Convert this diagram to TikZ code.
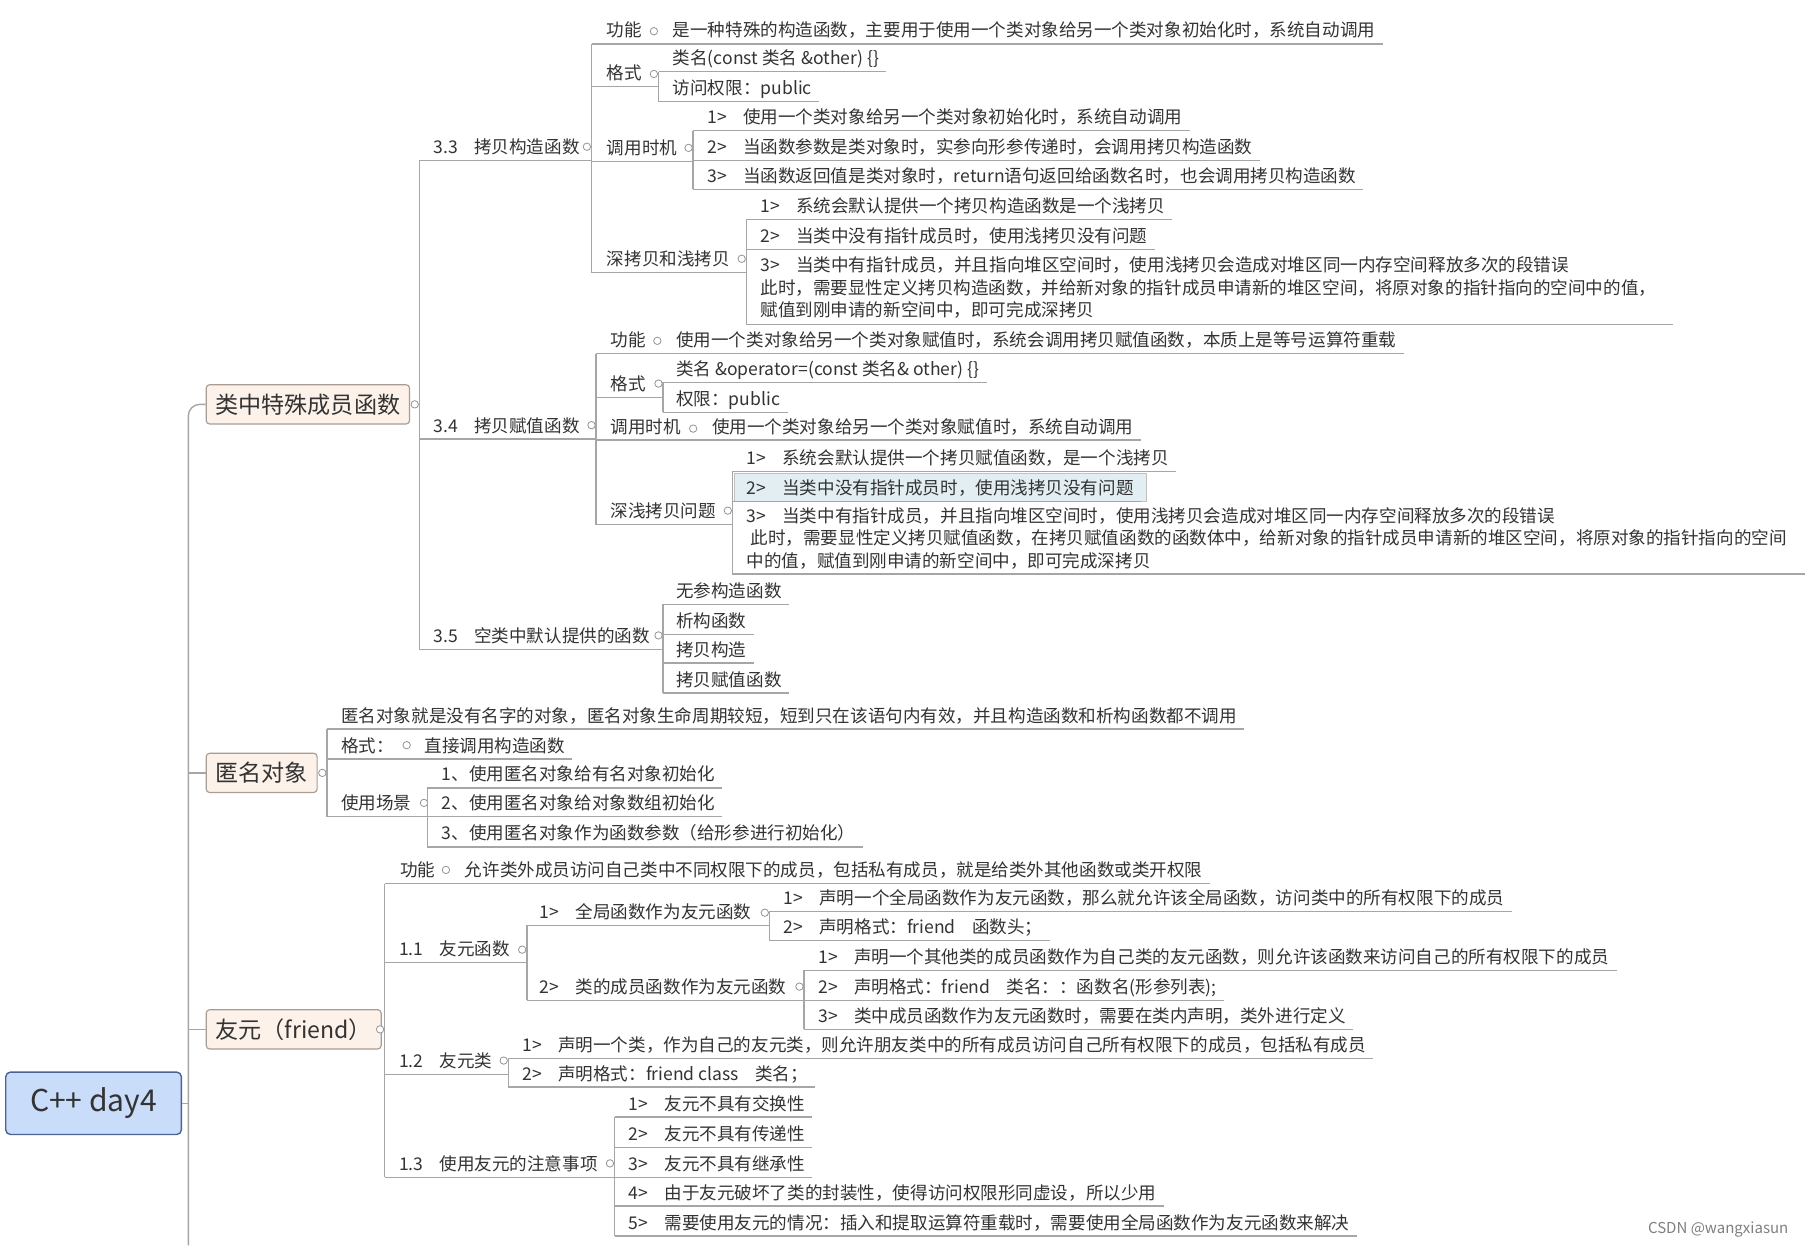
\documentclass[tikz,border=0pt]{standalone}
\usepackage{fontspec}
\setmainfont{Noto Sans CJK SC}
\definecolor{lnc}{HTML}{A6A6A6}
\definecolor{txc}{HTML}{333333}
\definecolor{boxf}{HTML}{FDF2EA}
\definecolor{boxd}{HTML}{A89C94}
\definecolor{rootf}{HTML}{C9DCFA}
\definecolor{rootd}{HTML}{4A6391}
\definecolor{hlf}{HTML}{E3EEF3}
\newcommand\gp{\hspace{7pt}}
\newcommand\T[4]{\node[tx] (#1) at (#2,#3) {#4};}
\newcommand\LL[3]{\draw[ln] (#1,#2) -- (#3.base east |- 0,#2) -- ++(3pt,0);}
\newcommand\HL[3]{\draw[ln] (#1,#3) -- (#2,#3);}
\newcommand\VL[3]{\draw[ln] (#1,#2) -- (#1,#3);}
\newcommand\D[3]{\node[dot] (#1) at (#2,#3) {};}
\begin{document}
\begin{tikzpicture}[x=0.5pt,y=-0.5pt,
  tx/.style={anchor=base west,inner sep=0pt,yshift=3pt,text=txc,font=\fontsize{7.6pt}{9.7pt}\selectfont,align=left},
  ln/.style={draw=lnc,line width=0.6pt},
  dot/.style={circle,draw=lnc!90!black,fill=white,line width=0.35pt,inner sep=0pt,minimum size=3.2pt},
  box/.style={draw=boxd,fill=boxf,rounded corners=1.5pt,line width=0.5pt,anchor=west,minimum height=17pt,inner xsep=4pt,text=txc,font=\fontsize{10pt}{12pt}\selectfont},
  rootbox/.style={draw=rootd,fill=rootf,rounded corners=2pt,line width=0.6pt,minimum width=76pt,minimum height=27pt,text=txc,font=\fontsize{13pt}{15pt}\selectfont}]
\useasboundingbox (0,0) rectangle (1565,1078);
\fill[white] (0,0) rectangle (1565,1078);
% root and trunk
\node[rootbox] (r) at (81,955) {C++ day4};
\draw[ln] (r.east) -- (163,955);
\node[box] (A) at (178,350) {类中特殊成员函数};
\node[box] (B) at (178,669) {匿名对象};
\node[box] (C) at (178,891) {友元（friend）};
\draw[ln,rounded corners=5pt] (A.west) -- (163,350) -- (163,1078);
\draw[ln,rounded corners=5pt] (B.west) -- (163,669);
\draw[ln,rounded corners=5pt] (C.west) -- (163,891);
\D{Ac}{359}{350} \D{Bc}{279}{669} \D{Cc}{329}{891}
% ===== A
\VL{363}{139}{562}
\draw[ln] (Ac) -- (363,350);
% 3.3
\T{a3}{375}{139}{3.3\gp 拷贝构造函数} \HL{363}{512}{139} \D{a3c}{508}{127}
\VL{512}{38}{236}
\T{a3a}{525}{38}{功能} \D{a3ac}{566}{27}
\T{a3a1}{582}{38}{是一种特殊的构造函数，主要用于使用一个类对象给另一个类对象初始化时，系统自动调用}
\LL{512}{38}{a3a1}
\T{a3b}{525}{75}{格式} \D{a3bc}{566}{64} \HL{512}{570}{75}
\VL{570}{62}{88}
\T{a3b1}{582}{62}{类名(const 类名 \&other) \{\}} \LL{570}{62}{a3b1}
\T{a3b2}{582}{88}{访问权限：public} \LL{570}{88}{a3b2}
\T{a3c1}{525}{140}{调用时机} \D{a3cc}{596}{128} \HL{512}{600}{140}
\VL{600}{113}{164}
\T{a3c2}{612}{113}{1>\gp 使用一个类对象给另一个类对象初始化时，系统自动调用} \LL{600}{113}{a3c2}
\T{a3c3}{612}{139}{2>\gp 当函数参数是类对象时，实参向形参传递时，会调用拷贝构造函数} \LL{600}{139}{a3c3}
\T{a3c4}{612}{164}{3>\gp 当函数返回值是类对象时，return语句返回给函数名时，也会调用拷贝构造函数} \LL{600}{164}{a3c4}
\T{a3d}{525}{236}{深拷贝和浅拷贝} \D{a3dc}{642}{224} \HL{512}{646}{236}
\VL{646}{190}{281}
\T{a3d1}{658}{190}{1>\gp 系统会默认提供一个拷贝构造函数是一个浅拷贝} \LL{646}{190}{a3d1}
\T{a3d2}{658}{216}{2>\gp 当类中没有指针成员时，使用浅拷贝没有问题} \LL{646}{216}{a3d2}
\node[tx,anchor=north west,yshift=0pt] (a3d3) at (658,228) {3>\gp 当类中有指针成员，并且指向堆区空间时，使用浅拷贝会造成对堆区同一内存空间释放多次的段错误\\此时，需要显性定义拷贝构造函数，并给新对象的指针成员申请新的堆区空间，将原对象的指针指向的空间中的值，\\赋值到刚申请的新空间中，即可完成深拷贝};
\draw[ln] (646,281) -- (1448,281);
% 3.4
\T{a4}{375}{380}{3.4\gp 拷贝赋值函数} \HL{363}{516}{380} \D{a4c}{512}{368}
\VL{516}{306}{454}
\T{a4a}{528}{306}{功能} \D{a4ac}{569}{295}
\T{a4a1}{585}{306}{使用一个类对象给另一个类对象赋值时，系统会调用拷贝赋值函数，本质上是等号运算符重载} \LL{516}{306}{a4a1}
\T{a4b}{528}{344}{格式} \D{a4bc}{570}{332} \HL{516}{574}{344}
\VL{574}{331}{357}
\T{a4b1}{585}{331}{类名 \&operator=(const 类名\& other) \{\}} \LL{574}{331}{a4b1}
\T{a4b2}{585}{357}{权限：public} \LL{574}{357}{a4b2}
\T{a4c1}{528}{381}{调用时机} \D{a4cc}{600}{371}
\T{a4c2}{616}{381}{使用一个类对象给另一个类对象赋值时，系统自动调用} \LL{516}{381}{a4c2}
\T{a4d}{528}{454}{深浅拷贝问题} \D{a4dc}{630}{442} \HL{516}{634}{454}
\VL{634}{408}{497}
\T{a4d1}{646}{408}{1>\gp 系统会默认提供一个拷贝赋值函数，是一个浅拷贝} \LL{634}{408}{a4d1}
\fill[hlf] (636,410) rectangle (992,434);
\draw[lnc!70,line width=0.4pt] (636,410) rectangle (992,434);
\T{a4d2}{646}{434}{2>\gp 当类中没有指针成员时，使用浅拷贝没有问题} \LL{634}{434}{a4d2}
\node[tx,anchor=north west,yshift=0pt] (a4d3) at (646,445) {3>\gp 当类中有指针成员，并且指向堆区空间时，使用浅拷贝会造成对堆区同一内存空间释放多次的段错误\\\ 此时，需要显性定义拷贝赋值函数，在拷贝赋值函数的函数体中，给新对象的指针成员申请新的堆区空间，将原对象的指针指向的空间\\中的值，赋值到刚申请的新空间中，即可完成深拷贝};
\draw[ln] (634,497) -- (1562,497);
% 3.5
\T{a5}{375}{562}{3.5\gp 空类中默认提供的函数} \HL{363}{574}{562} \D{a5c}{570}{550}
\VL{574}{523}{600}
\T{a51}{585}{523}{无参构造函数} \LL{574}{523}{a51}
\T{a52}{585}{549}{析构函数} \LL{574}{549}{a52}
\T{a53}{585}{574}{拷贝构造} \LL{574}{574}{a53}
\T{a54}{585}{600}{拷贝赋值函数} \LL{574}{600}{a54}
% ===== B
\draw[ln] (Bc) -- (283,669);
\VL{283}{631}{707}
\T{b1}{295}{631}{匿名对象就是没有名字的对象，匿名对象生命周期较短，短到只在该语句内有效，并且构造函数和析构函数都不调用} \LL{283}{631}{b1}
\T{b2}{295}{657}{格式：} \D{b2c}{352}{645}
\T{b21}{367}{657}{直接调用构造函数} \LL{283}{657}{b21}
\T{b3}{295}{707}{使用场景} \D{b3c}{367}{695} \HL{283}{370}{707}
\VL{370}{682}{733}
\T{b31}{382}{682}{1、使用匿名对象给有名对象初始化} \LL{370}{682}{b31}
\T{b32}{382}{707}{2、使用匿名对象给对象数组初始化} \LL{370}{707}{b32}
\T{b33}{382}{733}{3、使用匿名对象作为函数参数（给形参进行初始化）} \LL{370}{733}{b33}
% ===== C
\draw[ln] (Cc) -- (333,891);
\VL{333}{765}{1019}
\T{c1}{346}{765}{功能} \D{c1c}{386}{753}
\T{c11}{402}{765}{允许类外成员访问自己类中不同权限下的成员，包括私有成员，就是给类外其他函数或类开权限} \LL{333}{765}{c11}
\T{c2}{345}{833}{1.1\gp 友元函数} \D{c2c}{452}{822} \HL{333}{456}{833}
\VL{456}{801}{866}
\T{c21}{467}{801}{1>\gp 全局函数作为友元函数} \D{c21c}{662}{790} \HL{456}{666}{801}
\VL{666}{789}{814}
\T{c211}{678}{789}{1>\gp 声明一个全局函数作为友元函数，那么就允许该全局函数，访问类中的所有权限下的成员} \LL{666}{789}{c211}
\T{c212}{678}{814}{2>\gp 声明格式：friend\gp 函数头；} \LL{666}{814}{c212}
\T{c22}{467}{866}{2>\gp 类的成员函数作为友元函数} \D{c22c}{692}{854} \HL{456}{696}{866}
\VL{696}{840}{891}
\T{c221}{708}{840}{1>\gp 声明一个其他类的成员函数作为自己类的友元函数，则允许该函数来访问自己的所有权限下的成员} \LL{696}{840}{c221}
\T{c222}{708}{866}{2>\gp 声明格式：friend\gp 类名：：函数名(形参列表);} \LL{696}{866}{c222}
\T{c223}{708}{891}{3>\gp 类中成员函数作为友元函数时，需要在类内声明，类外进行定义} \LL{696}{891}{c223}
\T{c3}{345}{930}{1.2\gp 友元类} \D{c3c}{436}{918} \HL{333}{440}{930}
\VL{440}{916}{941}
\T{c31}{452}{916}{1>\gp 声明一个类，作为自己的友元类，则允许朋友类中的所有成员访问自己所有权限下的成员，包括私有成员} \LL{440}{916}{c31}
\T{c32}{452}{941}{2>\gp 声明格式：friend class\gp 类名；} \LL{440}{941}{c32}
\T{c4}{345}{1019}{1.3\gp 使用友元的注意事项} \D{c4c}{528}{1007} \HL{333}{532}{1019}
\VL{532}{967}{1070}
\T{c41}{544}{967}{1>\gp 友元不具有交换性} \LL{532}{967}{c41}
\T{c42}{544}{993}{2>\gp 友元不具有传递性} \LL{532}{993}{c42}
\T{c43}{544}{1019}{3>\gp 友元不具有继承性} \LL{532}{1019}{c43}
\T{c44}{544}{1044}{4>\gp 由于友元破坏了类的封装性，使得访问权限形同虚设，所以少用} \LL{532}{1044}{c44}
\T{c45}{544}{1070}{5>\gp 需要使用友元的情况：插入和提取运算符重载时，需要使用全局函数作为友元函数来解决} \LL{532}{1070}{c45}
\node[anchor=east,text=gray,font=\fontsize{6.5pt}{8pt}\selectfont] (wm) at (1555,1064) {CSDN @wangxiasun};
\end{tikzpicture}
\end{document}
